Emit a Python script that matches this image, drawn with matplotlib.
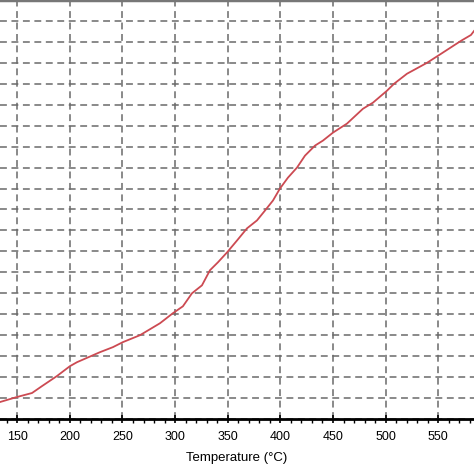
import matplotlib
matplotlib.use("Agg")
import matplotlib.pyplot as plt
from matplotlib.ticker import MultipleLocator

# temperature (C) and signal (grid units, y axis labels are cropped off in the source)
temperature = [133.6, 149.7, 164, 173.5, 187.7, 200, 206.7, 228.6, 240.9, 250.4,
               266.6, 285.6, 297.9, 307.4, 316, 325.5, 333.1, 340.7, 349.3, 358.8,
               368.3, 377.8, 385.4, 393, 399.6, 407.2, 415.8, 423.4, 432.9, 440.5,
               450, 463.3, 478.5, 488, 501.3, 508, 520.3, 539.3, 552.6, 571.6,
               581.1, 584]
signal = [0.81, 1.05, 1.24, 1.57, 2.05, 2.52, 2.71, 3.19, 3.43, 3.67,
          4.0, 4.57, 5.05, 5.38, 6.0, 6.38, 7.10, 7.48, 7.95, 8.52,
          9.10, 9.48, 9.95, 10.43, 11.0, 11.52, 12.0, 12.57, 13.05, 13.29,
          13.67, 14.10, 14.81, 15.10, 15.67, 16.0, 16.48, 17.0, 17.43, 18.05,
          18.33, 18.52]

xticks = [150, 200, 250, 300, 350, 400, 450, 500, 550]

plt.rcParams['font.family'] = ['Liberation Sans', 'DejaVu Sans']

fig = plt.figure(figsize=(4.74, 4.74), dpi=100)
ax = fig.add_axes([0.0, 1 - 419 / 474, 1.0, 419 / 474])

ax.plot(temperature, signal, color='#cc4a52', linewidth=1.3)

ax.set_xlim(133.6, 584)
ax.set_ylim(0, 20)
ax.set_xticks(xticks)
ax.xaxis.set_minor_locator(MultipleLocator(10))
ax.yaxis.set_major_locator(MultipleLocator(1))
ax.set_yticklabels([])
ax.tick_params(axis='y', length=0)
ax.tick_params(axis='x', which='major', direction='inout', length=6, width=1.2,
               labelsize=9, pad=6)
ax.tick_params(axis='x', which='minor', direction='out', length=3, width=1)

ax.grid(True, which='major', color='#6a6a6a', linestyle=(0, (4.5, 3)), linewidth=1.1)

ax.spines['left'].set_visible(False)
ax.spines['right'].set_visible(False)
ax.spines['bottom'].set_linewidth(2)
ax.spines['bottom'].set_color('black')
ax.spines['top'].set_linewidth(2.5)
ax.spines['top'].set_color('#777777')

ax.set_xlabel('Temperature (°C)', fontsize=9.5, labelpad=6)

fig.savefig('out.png', dpi=100)
